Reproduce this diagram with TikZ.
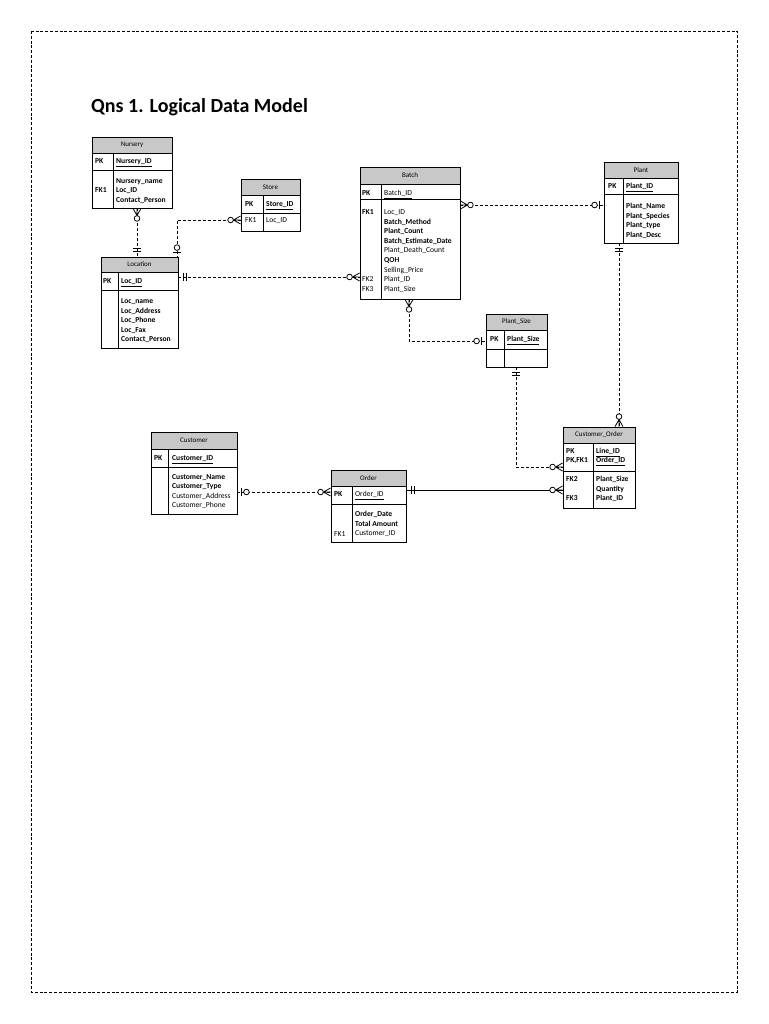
\documentclass[tikz,border=0pt]{standalone}
\usepackage{fontspec}
\setmainfont{Carlito}
\usetikzlibrary{fit}
\definecolor{hdrgray}{RGB}{200,200,200}
\tikzset{
  entbox/.style={draw, line width=0.9pt, inner sep=0pt},
  divline/.style={line width=0.9pt},
  hdrtext/.style={inner sep=0pt, font=\fontsize{7}{8}\selectfont},
  rowtext/.style={inner sep=0pt, anchor=base west, font=\fontsize{7.6}{8}\selectfont},
  conn/.style={line width=0.8pt, dash pattern=on 3pt off 2pt},
  connsolid/.style={line width=0.8pt},
  pageborder/.style={line width=0.6pt, dash pattern=on 3pt off 1.8pt},
  erZM/.pic={\draw[solid, line width=0.8pt] (0,-4) -- (7,0) (0,0) -- (7,0) (0,4) -- (7,0);
             \draw[solid, line width=0.8pt, fill=white] (10,0) circle (2.8);},
  erZO/.pic={\draw[solid, line width=0.8pt] (4,-4) -- (4,4);
             \draw[solid, line width=0.8pt, fill=white] (9,0) circle (2.8);},
  erMO/.pic={\draw[solid, line width=0.8pt] (5,-4) -- (5,4) (8,-4) -- (8,4);},
}
% name, x1, y1, x2, y header bottom, y pk bottom, y2, x divider, title
\newcommand{\erent}[9]{%
  \fill[hdrgray] (#2,#3) rectangle (#4,#5);
  \draw[divline] (#2,#5) -- (#4,#5) (#2,#6) -- (#4,#6) (#8,#5) -- (#8,#7);
  \node[entbox, fit={(#2,#3) (#4,#7)}] (#1) {};
  \node[hdrtext] (#1-title) at ({(#2+#4)/2},{(#3+#5)/2}) {#9};
}
% name, x, first baseline, step, list
\newcommand{\erows}[5]{%
  \foreach \t [count=\i] in {#5} {\node[rowtext] (#1-\i) at (#2,{#3+(\i-1)*#4}) {\t};}
}
\begin{document}
\begin{tikzpicture}[x=1pt, y=-1pt]
\useasboundingbox (0,0) rectangle (768,1024);
\draw[pageborder] (31,31) rectangle (737,992);

\node[anchor=base west, inner sep=0pt, font=\bfseries\fontsize{20}{24}\selectfont] (title) at (91,113) {Qns 1. Logical Data Model};

% Nursery
\erent{nursery}{92}{137}{172}{153}{170}{208}{113}{Nursery}
\node[rowtext] (nursery-pk) at (95,164) {\bfseries PK};
\node[rowtext] (nursery-id) at (116,164) {\underline{\bfseries Nursery\_ID}};
\node[rowtext] (nursery-fk) at (95,193) {\bfseries FK1};
\erows{nursery-r}{116}{183.5}{9.5}{{\bfseries Nursery\_name},{\bfseries Loc\_ID},{\bfseries Contact\_Person}}

% Location
\erent{location}{101}{257}{178}{272}{290}{348}{118}{Location}
\node[rowtext] (location-pk) at (103,283.5) {\bfseries PK};
\node[rowtext] (location-id) at (121,283.5) {\underline{\bfseries Loc\_ID}};
\erows{location-r}{121}{303.5}{9.5}{{\bfseries Loc\_name},{\bfseries Loc\_Address},{\bfseries Loc\_Phone},{\bfseries Loc\_Fax},{\bfseries Contact\_Person}}

% Store
\erent{store}{241}{179}{300}{195}{213}{231}{263}{Store}
\node[rowtext] (store-pk) at (245,206.5) {\bfseries PK};
\node[rowtext] (store-id) at (266,206.5) {\underline{\bfseries Store\_ID}};
\node[rowtext] (store-fk) at (245,222.5) {FK1};
\node[rowtext] (store-loc) at (266,222.5) {Loc\_ID};

% Batch
\erent{batch}{360}{167}{460}{184}{199}{299}{381}{Batch}
\node[rowtext] (batch-pk) at (362,195.5) {\bfseries PK};
\node[rowtext] (batch-id) at (384,195.5) {\underline{Batch\_ID}};
\node[rowtext] (batch-fk1) at (362,214.5) {\bfseries FK1};
\node[rowtext] (batch-fk2) at (362,281.7) {FK2};
\node[rowtext] (batch-fk3) at (362,291.3) {FK3};
\erows{batch-r}{384}{214.5}{9.6}{Loc\_ID,{\bfseries Batch\_Method},{\bfseries Plant\_Count},{\bfseries Batch\_Estimate\_Date},Plant\_Death\_Count,{\bfseries QOH},Selling\_Price,Plant\_ID,Plant\_Size}

% Plant
\erent{plant}{604}{162}{678}{178}{194}{243}{623}{Plant}
\node[rowtext] (plant-pk) at (608,188.5) {\bfseries PK};
\node[rowtext] (plant-id) at (626,188.5) {\underline{\bfseries Plant\_ID}};
\erows{plant-r}{626}{208.5}{9.6}{{\bfseries Plant\_Name},{\bfseries Plant\_Species},{\bfseries Plant\_type},{\bfseries Plant\_Desc}}

% Plant_Size
\erent{plantsize}{486}{314}{547}{330}{349}{367}{504}{Plant\_Size}
\node[rowtext] (plantsize-pk) at (490,341.5) {\bfseries PK};
\node[rowtext] (plantsize-id) at (507,341.5) {\underline{\bfseries Plant\_Size}};

% Customer
\erent{customer}{151}{432}{237}{449}{467}{514}{168}{Customer}
\node[rowtext] (customer-pk) at (154,460.5) {\bfseries PK};
\node[rowtext] (customer-id) at (172,460.5) {\underline{\bfseries Customer\_ID}};
\erows{customer-r}{172}{479.5}{9.3}{{\bfseries Customer\_Name},{\bfseries Customer\_Type},Customer\_Address,Customer\_Phone}

% Order
\erent{order}{331}{470}{406}{486}{504}{542}{352}{Order}
\node[rowtext] (order-pk) at (334,496.5) {\bfseries PK};
\node[rowtext] (order-id) at (355,496.5) {\underline{Order\_ID}};
\node[rowtext] (order-fk) at (334,536) {FK1};
\erows{order-r}{355}{516.5}{9.5}{{\bfseries Order\_Date},{\bfseries Total Amount},Customer\_ID}

% Customer_Order
\erent{custorder}{563}{427}{635}{443}{471}{508}{593}{Customer\_Order}
\node[rowtext] (custorder-pk) at (566,453.5) {\bfseries PK};
\node[rowtext] (custorder-pkfk) at (566,462.5) {\bfseries PK,FK1};
\node[rowtext] (custorder-id1) at (596,453.5) {\underline{\bfseries Line\_ID}};
\node[rowtext] (custorder-id2) at (596,462.5) {\underline{\bfseries Order\_ID}};
\node[rowtext] (custorder-fk2) at (566,481.5) {\bfseries FK2};
\node[rowtext] (custorder-fk3) at (566,500.5) {\bfseries FK3};
\erows{custorder-r}{596}{481.5}{9.5}{{\bfseries Plant\_Size},{\bfseries Quantity},{\bfseries Plant\_ID}}

% Connectors
\draw[conn] (nursery.south -| 137,0) -- (location.north -| 137,0);
\draw[conn] (store.west |- 0,220) -| (location.north -| 177,0);
\draw[conn] (location.east |- 0,277) -- (batch.west |- 0,277);
\draw[conn] (batch.east |- 0,205) -- (plant.west |- 0,205);
\draw[conn] (batch.south -| 409,0) |- (plantsize.west |- 0,341);
\draw[conn] (plant.south -| 619,0) -- (custorder.north -| 619,0);
\draw[conn] (plantsize.south -| 516,0) |- (custorder.west |- 0,467);
\draw[connsolid] (order.east |- 0,490) -- (custorder.west |- 0,490);
\draw[conn] (customer.east |- 0,492) -- (order.west |- 0,492);

% Ends
\pic[rotate=-90] at (nursery.south -| 137,0) {erZM};
\pic[rotate=90] at (location.north -| 137,0) {erMO};
\pic[rotate=180] at (store.west |- 0,220) {erZM};
\pic[rotate=90] at (location.north -| 177,0) {erZO};
\pic at (location.east |- 0,277) {erMO};
\pic[rotate=180] at (batch.west |- 0,277) {erZM};
\pic at (batch.east |- 0,205) {erZM};
\pic[rotate=180] at (plant.west |- 0,205) {erZO};
\pic[rotate=-90] at (batch.south -| 409,0) {erZM};
\pic[rotate=180] at (plantsize.west |- 0,341) {erZO};
\pic[rotate=-90] at (plant.south -| 619,0) {erMO};
\pic[rotate=90] at (custorder.north -| 619,0) {erZM};
\pic[rotate=-90] at (plantsize.south -| 516,0) {erMO};
\pic[rotate=180] at (custorder.west |- 0,467) {erZM};
\pic at (order.east |- 0,490) {erMO};
\pic[rotate=180] at (custorder.west |- 0,490) {erZM};
\pic at (customer.east |- 0,492) {erZO};
\pic[rotate=180] at (order.west |- 0,492) {erZM};
\end{tikzpicture}
\end{document}
